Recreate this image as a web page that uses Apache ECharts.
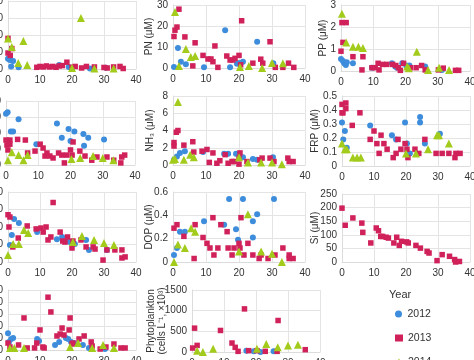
<!DOCTYPE html>
<html><head><meta charset="utf-8">
<script src="https://cdn.jsdelivr.net/npm/echarts@6/dist/echarts.min.js"></script>
<style>html,body{margin:0;padding:0;background:#fff}#c{width:474px;height:360px}</style>
</head><body><div id="c"></div>
<script>
const years = ['2012', '2013', '2014'];
const xTicks = [0, 10, 20, 30, 40];

// Panel row 1 left (y-axis title cut off)
const r1Left2012 = [[0,6],[0.6,5.3],[1.6,4.7],[1,1.5],[3.3,1],[16,2.4],[19,1.2],[25.6,0.3],[30.5,0.8]];
const r1Left2013 = [[0,9.4],[0.7,8],[1.2,12],[0,18],[9,1],[10,1.5],[11,1.2],[12,1.8],[13,1.2],[14,1.5],[15,1],[16,1.8],[17,2],[18.4,4],[20,1],[21,1.5],[23,0.6],[24.5,1.5],[27,1.2],[30,0.9],[31,0.6],[33,1.2],[35,1.5],[36,0.3]];
const r1Left2014 = [[0,18],[1.2,13],[4.8,16.5],[3.2,3.5],[6,2.4],[22.8,30],[20,0.6],[27,0.3],[33,0.3]];

// PN (μM)
const pn2012 = [[0.3,0.5],[1.5,9.5],[2.4,3],[3.9,1.8],[9.4,0.3],[15.8,18],[17.3,0.3],[19.4,2],[20,2.4],[21.2,3],[25.5,12.5],[30.4,2.3]];
const pn2013 = [[1.8,28],[0.3,15],[0.6,18],[1.2,19.5],[3.6,14.8],[6.7,12],[6,1],[9.1,6],[10.6,4.3],[11.5,4.3],[12.1,3],[12.7,10.5],[13.6,0.3],[16.3,5.7],[17.3,3.8],[18.1,3.8],[18.8,4.6],[20,6],[20.8,22.5],[20.5,1.5],[24.2,2.3],[26.6,4.2],[27.2,2.3],[29.4,12.5],[31,0.3],[33.3,0.3],[35,2.3],[36.6,0.3]];
const pn2014 = [[0.6,26.7],[1.8,1],[3.9,9],[5.4,5.2],[6.7,5.7],[20.3,0.5],[23,1],[27,0],[30,2.4],[33.3,2.3]];

// PP (μM)
const pp2012 = [[0,0.55],[0.6,0.45],[1,0.35],[1.5,0.27],[1.8,0.4],[3.7,0.35],[9.6,0.15],[15.8,0.35],[16.8,0.2],[17.4,0.15],[19,0.35],[20.2,0.25],[21.2,0.25],[26.1,0.2],[31.3,0.05]];
const pp2013 = [[0.3,2.2],[1.6,2.2],[0.6,1.3],[0,0.9],[3.7,0.65],[6.8,0.65],[6.5,0.05],[9.6,0.15],[10.6,0.15],[11.5,0.35],[11.8,0.05],[12.9,0.3],[14.2,0.3],[16,0.3],[17,0.25],[17.8,0.15],[18.4,0.03],[19.4,0.35],[21.5,0.15],[23.3,0.15],[25,0.25],[26.1,0.05],[30.2,0.05],[31.7,0.13],[35.5,0.03],[36.5,0.03]];
const pp2014 = [[0.3,2.6],[1.6,1.3],[3.7,1.1],[5.4,1.1],[6.8,1.05],[23.5,0.87],[20.5,0.2],[21,0.13],[27,0.05],[30.4,0.15],[33.5,0.05]];

// Row 2 left (y-axis title cut off)
const r2Left2012 = [[0,32],[0.5,33],[1.5,21],[2.2,21],[3.9,28.6],[9.4,13],[15.8,26],[17.3,17],[19.4,22.5],[20,15],[21.2,21],[24,19.4],[24.2,12],[25.5,17],[30.4,16]];
const r2Left2013 = [[0,15.6],[0.3,12.5],[0.6,9.4],[1.2,15.6],[1.2,13],[3.6,16],[6,15.6],[6.7,7.5],[9,8.7],[10.6,13],[11.5,10.6],[12.1,5.6],[12.7,7.5],[13.6,5.6],[14.6,4.4],[16.3,7.5],[17.3,6.2],[18.1,1.3],[18.8,6.2],[20,9.4],[20.8,14.4],[20.5,6.2],[22.9,8.7],[24.5,5.6],[26.6,3],[28.2,5],[31.3,5],[33.4,3],[35.6,1.3],[35.9,5],[36.8,6.2]];
const r2Left2014 = [[0.6,3],[1.8,8],[3.9,6.2],[5.4,3],[6.7,6.2],[20.3,3.8],[23,4.4],[27,5.6],[30,4.4],[33.3,3]];

// NH3 (μM)
const nh2012 = [[0.3,0.6],[1.2,1.0],[2.1,1.4],[3.6,1.6],[9.1,1.5],[15.5,1.3],[16.7,1.3],[19.1,1.3],[21.2,0.9],[24.2,0.7],[25.5,0.6],[30.3,0.9]];
const nh2013 = [[0.3,2.6],[0.3,2.2],[1,3.8],[1.5,4],[3.3,2.3],[6,2.7],[6.3,1.5],[8.8,1.6],[10.3,1.8],[11,0.3],[12.1,1.4],[13.3,0.2],[14.2,0.5],[15.8,1.2],[16.7,0.2],[17.9,0.4],[18.5,0.4],[20,0.8],[20.3,1.4],[20,0.1],[22.4,0.4],[26.3,0.6],[27,0.8],[29.4,0.8],[30.6,0.4],[34.8,0.8],[35.2,0.4],[36.4,0.4]];
const nh2014 = [[1.5,7.3],[0,0.6],[0.6,0.7],[3.3,0.6],[5.2,1.2],[6.3,0.9],[20,0.9],[22.7,0.3],[26.7,0.3],[30,0.3],[33,0.1]];

// FRP (μM)
const frp2012 = [[0,0.31],[0.4,0.19],[0.9,0.25],[1.5,0.13],[8.8,0.29],[15.6,0.22],[16.9,0.19],[19.7,0.31],[20.3,0.16],[21.2,0.09],[24.4,0.35],[24.4,0.31],[25.9,0.16],[30.6,0.23]];
const frp2013 = [[0,0.44],[0,0.38],[0.3,0.38],[1.2,0.45],[1.2,0.41],[3.2,0.29],[5.6,0.38],[8.8,0.19],[10,0.25],[10.9,0.16],[11.6,0.09],[12.2,0.22],[13.1,0.16],[14.1,0.12],[16,0.06],[16.9,0.09],[17.5,0.19],[18.4,0.12],[19.7,0.16],[20.3,0.12],[20.6,0.06],[22.8,0.12],[24,0.09],[25.9,0.19],[29.4,0.09],[31.3,0.09],[33.4,0.09],[35.3,0.06],[35.6,0.09],[36.9,0.09]];
const frp2014 = [[0,0.16],[0.9,0.12],[1.5,0.12],[3.4,0.06],[4.7,0.06],[5.9,0.06],[20,0.09],[23.1,0.09],[26.9,0.12],[29.7,0.22],[30.3,0.22],[33.4,0.16]];

// Row 3 left (y-axis title cut off)
const r3Left2012 = [[1.9,24.6],[3.4,22.3],[1.2,15.4],[0.6,9.7],[9.1,17.1],[15.3,13],[16.9,14.3],[18.8,12],[19.4,11.4],[20.9,10.3],[24.4,12.6],[25.3,6.9],[30.9,6.9]];
const r3Left2013 = [[14.1,34],[0,27],[0.6,25.7],[0.3,20],[1.5,8.6],[3.2,13.7],[6,20.6],[8.8,18.9],[10.3,19.4],[11,17.1],[11.9,20],[12.5,12.6],[13.4,14.3],[16.3,17.1],[17.1,12],[17.8,11.4],[18.6,14.3],[20,8],[20.3,12],[22.8,12.6],[24.4,8.6],[26.6,8.6],[27.2,7.4],[29.7,1.1],[30.9,6.9],[33.4,6.9],[35.6,6.9],[35.6,2.3],[36.6,2.9]];
const r3Left2014 = [[0,4],[1.6,10.3],[3.4,10.3],[5,18.3],[6.3,16.6],[20.3,11.4],[23.1,14.9],[26.9,12.6],[30,10.9],[33.1,9.7]];

// DOP (μM)
const dop2012 = [[17,0.54],[21.2,0.54],[30.6,0.54],[25.5,0.41],[24.2,0.35],[24.2,0.21],[19.1,0.28],[19.7,0.19],[15.5,0.32],[9.4,0.35],[2.1,0.26],[3.6,0.26],[1.2,0.12],[0.3,0.06]];
const dop2013 = [[0.3,0.29],[1.2,0.32],[3.3,0.22],[6.7,0.32],[6.4,0.03],[9.1,0.21],[10.3,0.16],[11.2,0.12],[12.1,0.38],[12.4,0.06],[13.6,0.12],[14.5,0.32],[16.4,0.26],[16.7,0.12],[17.9,0.06],[18.5,0.12],[20,0.16],[20.6,0.38],[20.3,0.12],[21.5,0.06],[22.7,0.16],[24.2,0.06],[26.1,0.03],[26.7,0.06],[28.8,0.03],[30.9,0.06],[33.3,0.12],[35.2,0.06],[35.2,0.03],[36.4,0.03]];
const dop2014 = [[0.3,0],[1.5,0.15],[3.6,0.12],[5.5,0.29],[6.7,0.26],[20,0.09],[22.7,0.41],[26.7,0.09],[30,0.07],[33,0]];

// Si (μM) — 2013 only
const si2012 = [];
const si2013 = [[0,198],[1,135],[3.4,162],[6.2,143],[6.5,109],[9,70],[10.7,125],[11.4,115],[12.1,94],[12.7,94],[13.8,91],[14.5,88],[16.2,70],[17.1,91],[17.9,61],[18.6,76],[20.2,74],[20.7,70],[23.1,61],[24.5,51],[26.6,39],[27.2,33],[29.7,5],[31.3,27],[33.6,21],[35.2,9],[35.5,0],[36.7,2]];
const si2014 = [];

// Row 4 left (y-axis title cut off)
const r4Left2012 = [[0,14],[0.3,6.7],[1,9.2],[1.6,10],[9.1,9.2],[9.7,7.5],[14.7,4.2],[16,6.7],[18.1,10],[18.8,9.2],[19.7,6.7],[20.6,5.8],[23.4,4.2],[25.3,1.7],[30.3,0.8]];
const r4Left2013 = [[12.5,44],[13.4,31.7],[5,26.7],[19.4,26.7],[10,16.7],[16.9,18.3],[19.1,16.7],[15.3,11.7],[16.3,13.3],[17.5,12.5],[22.2,9.2],[23.8,11.7],[9,5.8],[10.9,2.5],[11.3,1.7],[0,5.8],[0.6,2.5],[3.3,4.2],[6,1.7],[8.3,1.7],[26,6.7],[26.3,3.3],[28.8,0.8],[30.6,2.5],[33.1,5],[35.3,1.7],[36.6,1.7],[20,5],[20.3,5.8]];
const r4Left2014 = [[0.6,1.7],[2,1.7],[5,1.7],[19.4,2.5],[21.9,5.8],[26.3,1.7],[29.7,4.2],[33.1,1.7]];

// Phytoplankton (cells L⁻¹, ×10³)
const phy2012 = [[17,32],[19.3,16],[21.4,0],[25.5,16]];
const phy2013 = [[0.8,577],[0.2,96],[1.6,160],[8.9,521],[12.5,217],[13.5,113],[14.4,16],[16.4,1043],[17.7,32],[20.3,32],[22.9,16],[26.9,762],[26.6,16],[35.4,56]];
const phy2014 = [[1.6,32],[3.4,0],[6.6,80],[20.3,80],[23.2,192],[26.8,112],[30,160],[33.1,176]];

const FONT = 'Liberation Sans, Arial, sans-serif';
const colors = ['#3d8ddc', '#d0215a', '#a2cb1c'];
const symbols = ['circle', 'rect', 'triangle'];
const sizes = [6, 5.5, 8];

const panels = [
  { d:[r1Left2012,r1Left2013,r1Left2014], name:'', left:8, top:1, w:128, h:68, max:40, int:10, gap:0 },
  { d:[pn2012,pn2013,pn2014], name:'PN (μM)', left:173, top:5, w:132, h:63, max:30, int:10, gap:18 },
  { d:[pp2012,pp2013,pp2014], name:'PP (μM)', left:341, top:5, w:129, h:66, max:3, int:1, gap:12 },
  { d:[r2Left2012,r2Left2013,r2Left2014], name:'', left:6, top:101, w:129, h:64, max:40, int:10, gap:0 },
  { d:[nh2012,nh2013,nh2014], name:'NH₃ (μM)', left:173, top:96, w:132, h:69, max:8, int:2, gap:17 },
  { d:[frp2012,frp2013,frp2014], name:'FRP (μM)', left:342, top:96, w:128, h:70, max:0.5, int:0.1, gap:21 },
  { d:[r3Left2012,r3Left2013,r3Left2014], name:'', left:8, top:192, w:128, h:70, max:40, int:10, gap:0 },
  { d:[dop2012,dop2013,dop2014], name:'DOP (μM)', left:173, top:192, w:132, h:70, max:0.6, int:0.2, gap:18 },
  { d:[si2012,si2013,si2014], name:'Si (μM)', left:342, top:194, w:128, h:68, max:250, int:50, gap:21 },
  { d:[r4Left2012,r4Left2013,r4Left2014], name:'', left:8, top:290, w:128, h:60, max:50, int:10, gap:0 },
  { d:[phy2012,phy2013,phy2014], name:'Phytoplankton\n(cells L⁻¹, ×10³)', left:192, top:290, w:128, h:62, max:1500, int:500, gap:24, lh:11 }
];

const grid = [], xAxis = [], yAxis = [], series = [];
const split = { show:true, lineStyle:{ color:'#e4e4e4', width:1 } };
panels.forEach((p, i) => {
  grid.push({ left:p.left, top:p.top, width:p.w, height:p.h, containLabel:false, outerBoundsMode:'none' });
  xAxis.push({
    gridIndex:i, type:'value', min:xTicks[0], max:xTicks[xTicks.length-1], interval:10,
    axisLine:{ show:true, lineStyle:{ color:'#dcdcdc' } }, axisTick:{ show:false },
    axisLabel:{ color:'#333', fontSize:10, fontFamily:FONT, margin:6 },
    splitLine:split
  });
  yAxis.push({
    gridIndex:i, type:'value', min:0, max:p.max, interval:p.int,
    name:p.name, nameLocation:'middle', nameGap:p.gap, nameRotate:90, nameMoveOverlap:false,
    nameTextStyle:{ color:'#333', fontSize:10, fontFamily:FONT, lineHeight:p.lh || 12 },
    axisLine:{ show:true, lineStyle:{ color:'#dcdcdc' } }, axisTick:{ show:false },
    axisLabel:{ color:'#333', fontSize:10, fontFamily:FONT, margin:5,
      formatter: v => (Math.round(v*10)/10).toString() },
    splitLine:split
  });
  years.forEach((y, k) => {
    series.push({
      type:'scatter', name:y, xAxisIndex:i, yAxisIndex:i, data:p.d[k],
      symbol:symbols[k], symbolSize:sizes[k],
      itemStyle:{ color:colors[k], opacity:1 }, emphasis:{ disabled:true }
    });
  });
});

const legendTops = [302, 326, 350];
const legend = years.map((y, k) => ({
  orient:'vertical', left:390, top:legendTops[k], itemGap:10, itemWidth:8, itemHeight:7,
  data:[{ name:y, icon:symbols[k] }],
  textStyle:{ color:'#333', fontSize:10.5, fontFamily:FONT, lineHeight:14 },
  selectedMode:false
}));

const chart = echarts.init(document.getElementById('c'), null, { renderer:'canvas' });
chart.setOption({
  animation:false,
  backgroundColor:'#ffffff',
  textStyle:{ fontFamily:FONT },
  grid, xAxis, yAxis, series, legend,
  graphic:[{ type:'text', left:389, top:289, style:{ text:'Year', fill:'#333', font:'11px ' + FONT } }]
});
</script></body></html>
